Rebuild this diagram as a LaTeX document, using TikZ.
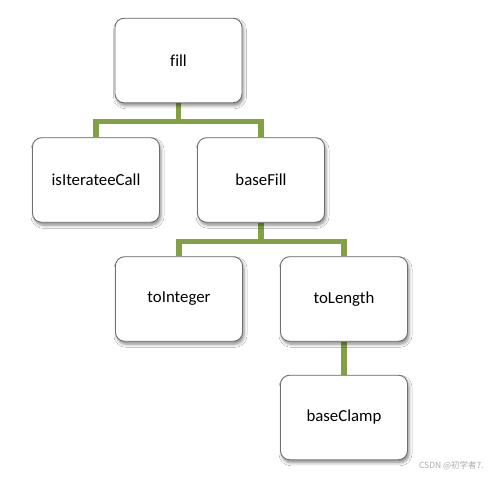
\documentclass[tikz,border=0pt]{standalone}
\usepackage{fontspec}
\setmainfont{Carlito}[Ligatures=NoCommon]
\newfontfamily\cjkfont{Noto Sans CJK SC}
\usetikzlibrary{shadows.blur,backgrounds}
\definecolor{conngreen}{RGB}{130,160,68}
\definecolor{boxborder}{RGB}{110,110,110}
\tikzset{
  treebox/.style={draw=boxborder, line width=0.9pt, fill=white, rounded corners=9pt,
    minimum width=127pt, minimum height=84.5pt, inner sep=0pt,
    font=\fontsize{16.8}{20}\selectfont,
    blur shadow={shadow xshift=1.5pt, shadow yshift=-3pt, shadow blur radius=3pt, shadow opacity=45}},
  conn/.style={draw=conngreen, line width=5.5pt}
}
\begin{document}
\begin{tikzpicture}[x=1pt,y=-1pt]
\useasboundingbox (0,0) rectangle (488,477);
\node[treebox] (fill) at (178.5,60.5) {fill};
\node[treebox] (isi) at (96,180) {isIterateeCall};
\node[treebox] (basefill) at (261,180) {baseFill};
\node[treebox] (toint) at (179,299) {toInteger};
\node[treebox] (tolen) at (344,299) {toLength};
\node[treebox] (clamp) at (344,417.5) {baseClamp};
\node[text=black!32, font=\cjkfont\fontsize{8.5}{10}\selectfont, anchor=east, inner sep=0pt] (wm) at (484,466) {CSDN @初学者7.};
\begin{scope}[on background layer]
\fill[white] (0,0) rectangle (488,477);
\draw[conn] (fill.south) -- ++(0,18.5) -| (isi.north);
\draw[conn] (fill.south) -- ++(0,18.5) -| (basefill.north);
\draw[conn] (basefill.south) -- ++(0,19) -| (toint.north);
\draw[conn] (basefill.south) -- ++(0,19) -| (tolen.north);
\draw[conn] (tolen.south) -- (clamp.north);
\end{scope}
\end{tikzpicture}
\end{document}
